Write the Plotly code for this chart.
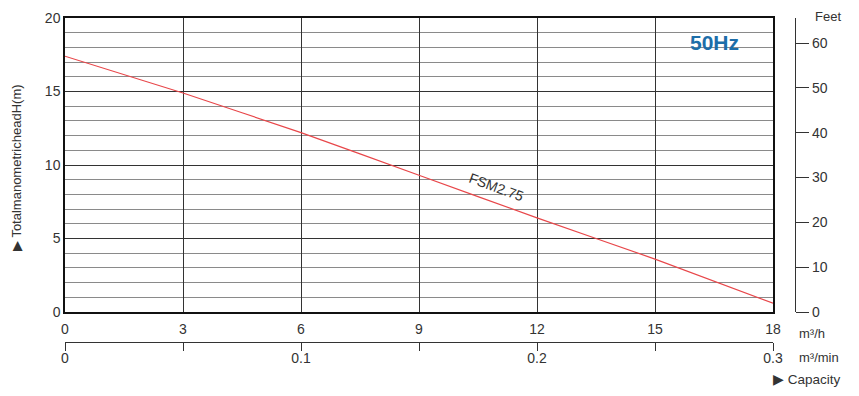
import plotly.graph_objects as go

flow_m3h = [0, 3, 6, 9, 12, 15, 18]
head_m = [17.4, 14.9, 12.2, 9.3, 6.4, 3.6, 0.6]
x_ticks = [0, 3, 6, 9, 12, 15, 18]
min_ticks = [0, 0.05, 0.1, 0.15, 0.2, 0.25, 0.3]
min_labels = ["0", "", "0.1", "", "0.2", "", "0.3"]
feet_ticks = [0, 10, 20, 30, 40, 50, 60]
model = "FSM2.75"

FONT = "Liberation Sans, Arial, sans-serif"
W, H = 859, 396
L, R_EDGE, T, B_MAIN, B_MIN = 65, 795, 18, 312, 342
PLOT_R = 773
xdom = (PLOT_R - L) / (R_EDGE - L)
ydom0 = (B_MIN - B_MAIN) / (B_MIN - T)

fig = go.Figure()
fig.add_trace(go.Scatter(x=flow_m3h, y=head_m, mode="lines",
                         line=dict(color="#e8474a", width=1.2, shape="spline", smoothing=0.3),
                         showlegend=False, hoverinfo="skip"))
fig.add_trace(go.Scatter(x=[0, 0.3], y=[None, None], xaxis="x2", yaxis="y", showlegend=False, hoverinfo="skip"))
fig.add_trace(go.Scatter(x=[0, 18], y=[None, None], xaxis="x", yaxis="y2", showlegend=False, hoverinfo="skip"))

fig.update_layout(
    width=W, height=H,
    margin=dict(l=L, r=W - R_EDGE, t=T, b=H - B_MIN, autoexpand=False),
    plot_bgcolor="white", paper_bgcolor="white",
    font=dict(family=FONT, size=13, color="#333"),
    xaxis=dict(domain=[0, xdom], range=[0, 18], tickvals=x_ticks, showgrid=True,
               gridcolor="#333", gridwidth=1.3, showline=True, linecolor="#111",
               linewidth=1.5, mirror=True, ticks="", zeroline=False, anchor="y",
               ticklabelstandoff=3, automargin=False,
               tickfont=dict(size=14, color="#333")),
    yaxis=dict(domain=[ydom0, 1], range=[0, 20], tickvals=[0, 5, 10, 15, 20],
               showgrid=True, gridcolor="#333", gridwidth=1.3, showline=True,
               linecolor="#111", linewidth=1.5, mirror=True, ticks="", zeroline=False,
               minor=dict(dtick=1, showgrid=True, gridcolor="#8a8a8a", gridwidth=1),
               tickfont=dict(size=14, color="#333"), anchor="x", automargin=False),
    xaxis2=dict(overlaying="x", anchor="free", position=0, range=[0, 0.3],
                tickvals=min_ticks, ticktext=min_labels, ticks="outside", ticklen=8,
                tickcolor="#333", showline=True, linecolor="#333", linewidth=1.3,
                showgrid=False, zeroline=False, tickfont=dict(size=14, color="#333"),
                ticklabelstandoff=-5, side="bottom", automargin=False),
    yaxis2=dict(overlaying="y", anchor="free", position=1, side="right",
                range=[0, 20 * 3.28084], tickvals=feet_ticks, ticks="outside",
                ticklen=13, tickcolor="#333", showline=True, linecolor="#333",
                linewidth=1.3, showgrid=False, zeroline=False, automargin=False,
                tickfont=dict(size=14, color="#333")),
)

def px_x(p):
    return (p - L) / (R_EDGE - L)

def px_y(p):
    return (B_MIN - p) / (B_MIN - T)

ann = [
    dict(text="▶ TotalmanometricheadH(m)", x=px_x(17), y=px_y(168), textangle=-90,
         font=dict(size=13, color="#333")),
    dict(text="Feet", x=px_x(828), y=px_y(17), font=dict(size=13, color="#333")),
    dict(text="m³/h", x=px_x(797), y=px_y(333), xanchor="left", font=dict(size=13, color="#333")),
    dict(text="m³/min", x=px_x(797), y=px_y(357), xanchor="left", font=dict(size=13, color="#333")),
    dict(text="▶ Capacity", x=px_x(771), y=px_y(379), xanchor="left", font=dict(size=13.5, color="#333")),
]
for a in ann:
    a.setdefault("xanchor", "center")
    fig.add_annotation(xref="paper", yref="paper", showarrow=False, yanchor="middle", **a)

fig.add_annotation(xref="x", yref="y", x=10.96, y=8.5, text=model, showarrow=False,
                   textangle=20, font=dict(size=14, color="#333"))
fig.add_annotation(xref="x", yref="y", x=16.5, y=18.3, text="<b>50Hz</b>", showarrow=False,
                   font=dict(size=21, color="#1d6ea9"))

fig.write_html("out.html")
